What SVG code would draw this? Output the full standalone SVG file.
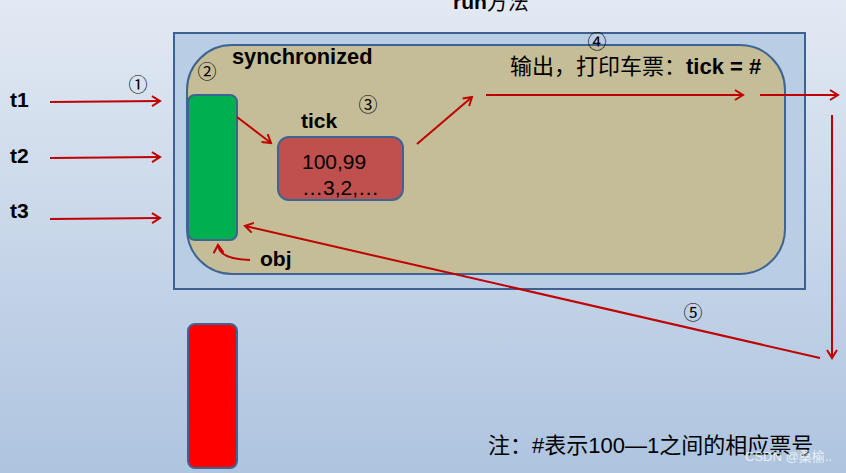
<svg xmlns="http://www.w3.org/2000/svg" width="846" height="473" viewBox="0 0 846 473">
<defs>
<linearGradient id="bg" x1="0" y1="0" x2="0" y2="1">
<stop offset="0" stop-color="#e2e9f3"/>
<stop offset="1" stop-color="#aec4df"/>
</linearGradient>
<marker id="ah" markerWidth="12" markerHeight="12" refX="10" refY="6" orient="auto" markerUnits="userSpaceOnUse">
<path d="M2,1 L10,6 L2,11" fill="none" stroke="#c00000" stroke-width="2"/>
</marker>
<style>
.b{font-family:"Liberation Sans",Arial,sans-serif;font-weight:bold;fill:#000}
.n{font-family:"Liberation Sans",Arial,sans-serif;fill:#000}
.cjk{font-family:"Liberation Sans","Noto Sans CJK SC",sans-serif;fill:#000}
.c{font-family:"Noto Sans CJK SC","DejaVu Sans",sans-serif;font-size:19px;fill:#000}
.ln{fill:none;stroke:#c00000;stroke-width:2}
</style>
</defs>
<rect x="0" y="0" width="846" height="473" fill="url(#bg)"/>
<text class="b" x="453" y="9" font-size="21">run<tspan class="cjk" font-weight="normal">方法</tspan></text>
<g id="outer"><rect x="174" y="33" width="631" height="256" fill="#b9cde5" stroke="#3f6191" stroke-width="2"/></g>
<g id="sync"><rect x="187" y="45" width="598" height="229" rx="45" fill="#c4bd97" stroke="#3e6591" stroke-width="2"/>
<text class="b" x="232" y="64" font-size="21.8">synchronized</text></g>
<g id="green"><rect x="188" y="95" width="49" height="145" rx="7" fill="#00b050" stroke="#3e6591" stroke-width="2"/></g>
<g id="tick"><text class="b" x="301" y="128" font-size="21">tick</text>
<rect x="278" y="137" width="125" height="63" rx="11" fill="#c0504d" stroke="#3e6591" stroke-width="2"/>
<text class="n" x="302" y="169" font-size="21">100,99</text>
<text class="n" x="302" y="195" font-size="21">…3,2,…</text></g>
<g id="red"><rect x="188" y="324" width="49" height="144" rx="7" fill="#ff0000" stroke="#3e6591" stroke-width="2"/></g>
<g id="labels">
<text class="b" x="10" y="107" font-size="21">t1</text>
<text class="b" x="10" y="163" font-size="21">t2</text>
<text class="b" x="10" y="218" font-size="21">t3</text>
<text class="b" x="260" y="266" font-size="21">obj</text>
<text class="cjk" x="510" y="74" font-size="22">输出，打印车票：<tspan font-weight="bold">tick = #</tspan></text>
<text class="cjk" x="488" y="453" font-size="22">注：#表示100—1之间的相应票号</text>
<text class="c" x="138" y="92" text-anchor="middle">①</text>
<text class="c" x="207" y="79" text-anchor="middle">②</text>
<text class="c" x="368" y="112" text-anchor="middle">③</text>
<text class="c" x="597" y="49" text-anchor="middle">④</text>
<text class="c" x="693" y="320" text-anchor="middle">⑤</text>
<text x="745" y="461" font-size="13" font-family="Liberation Sans,'Noto Sans CJK SC',sans-serif" fill="#ffffff" fill-opacity="0.75">CSDN @桑榆..</text>
</g>
<g id="connectors">
<line class="ln" x1="50" y1="102" x2="160" y2="101" marker-end="url(#ah)"/>
<line class="ln" x1="50" y1="158" x2="160" y2="157" marker-end="url(#ah)"/>
<line class="ln" x1="50" y1="219" x2="160" y2="218" marker-end="url(#ah)"/>
<line class="ln" x1="237" y1="117" x2="271" y2="143" marker-end="url(#ah)"/>
<line class="ln" x1="417" y1="144" x2="472" y2="97" marker-end="url(#ah)"/>
<line class="ln" x1="486" y1="95" x2="743" y2="95" marker-end="url(#ah)"/>
<line class="ln" x1="760" y1="95" x2="838" y2="95" marker-end="url(#ah)"/>
<line class="ln" x1="832" y1="115" x2="832" y2="358" marker-end="url(#ah)"/>
<line class="ln" x1="820" y1="358" x2="245" y2="226" marker-end="url(#ah)"/>
<path class="ln" d="M250,260 Q219,259 218,245" marker-end="url(#ah)"/>
</g>
</svg>
